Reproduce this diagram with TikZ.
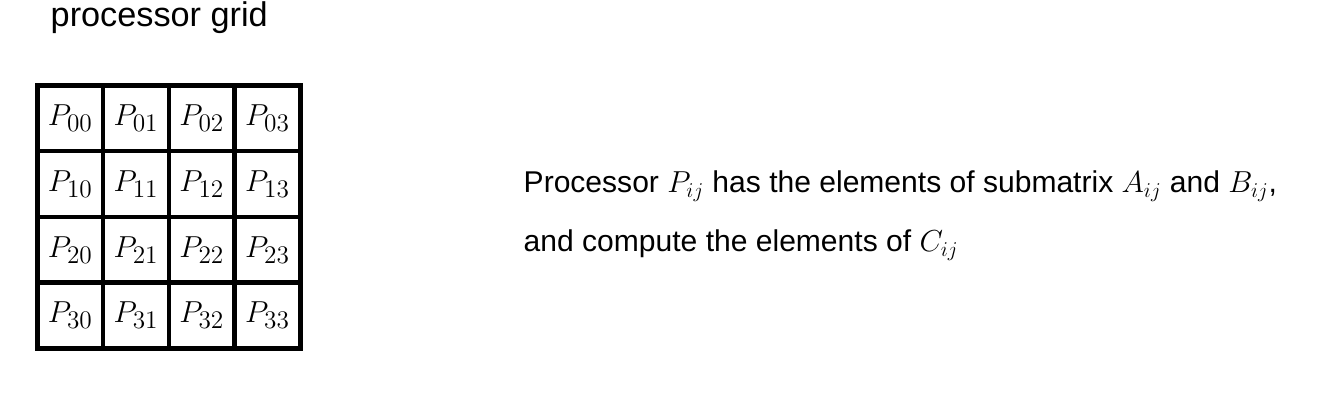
\documentclass[tikz,border=0pt]{standalone}
\usepackage{amsmath}
\usepackage{fontspec}
\setmainfont{Liberation Sans}
\usepackage{tikz}
\usetikzlibrary{shapes}

\tikzset{cell/.style={draw, line width=2.6pt, rectangle, minimum width=1.314cm,
minimum height=1.314cm, inner sep=0pt, font=\fontsize{19}{22}\selectfont}}

\begin{document}
\begin{tikzpicture}[auto, thick]
\useasboundingbox (0,0) rectangle (26.56,-8.18);

\node [anchor=base west, inner sep=0pt, font=\fontsize{19.5}{22}\selectfont] (title) at (1.0,-0.534) {processor grid};

\node [cell] (p00) at (1.407,-2.367) { $P_{00}$ };
\node [cell] (p01) at ([shift={(1.314,0)}]p00) { $P_{01}$ };
\node [cell] (p02) at ([shift={(1.314,0)}]p01) { $P_{02}$ };
\node [cell] (p03) at ([shift={(1.314,0)}]p02) { $P_{03}$ };

\node [cell] (p10) at ([shift={(0,-1.314)}]p00) { $P_{10}$ };
\node [cell] (p11) at ([shift={(1.314,0)}]p10) { $P_{11}$ };
\node [cell] (p12) at ([shift={(1.314,0)}]p11) { $P_{12}$ };
\node [cell] (p13) at ([shift={(1.314,0)}]p12) { $P_{13}$ };

\node [cell] (p20) at ([shift={(0,-1.314)}]p10) { $P_{20}$ };
\node [cell] (p21) at ([shift={(1.314,0)}]p20) { $P_{21}$ };
\node [cell] (p22) at ([shift={(1.314,0)}]p21) { $P_{22}$ };
\node [cell] (p23) at ([shift={(1.314,0)}]p22) { $P_{23}$ };

\node [cell] (p30) at ([shift={(0,-1.314)}]p20) { $P_{30}$ };
\node [cell] (p31) at ([shift={(1.314,0)}]p30) { $P_{31}$ };
\node [cell] (p32) at ([shift={(1.314,0)}]p31) { $P_{32}$ };
\node [cell] (p33) at ([shift={(1.314,0)}]p32) { $P_{33}$ };

\node [anchor=base west, inner sep=0pt, font=\fontsize{17.1}{20}\selectfont] (line1) at (10.46,-3.86) {Processor $P_{ij}$ has the elements of submatrix $A_{ij}$ and $B_{ij}$,};
\node [anchor=base west, inner sep=0pt, font=\fontsize{17.1}{20}\selectfont] (line2) at (10.46,-5.03) {and compute the elements of $C_{ij}$};
\end{tikzpicture}
\end{document}
